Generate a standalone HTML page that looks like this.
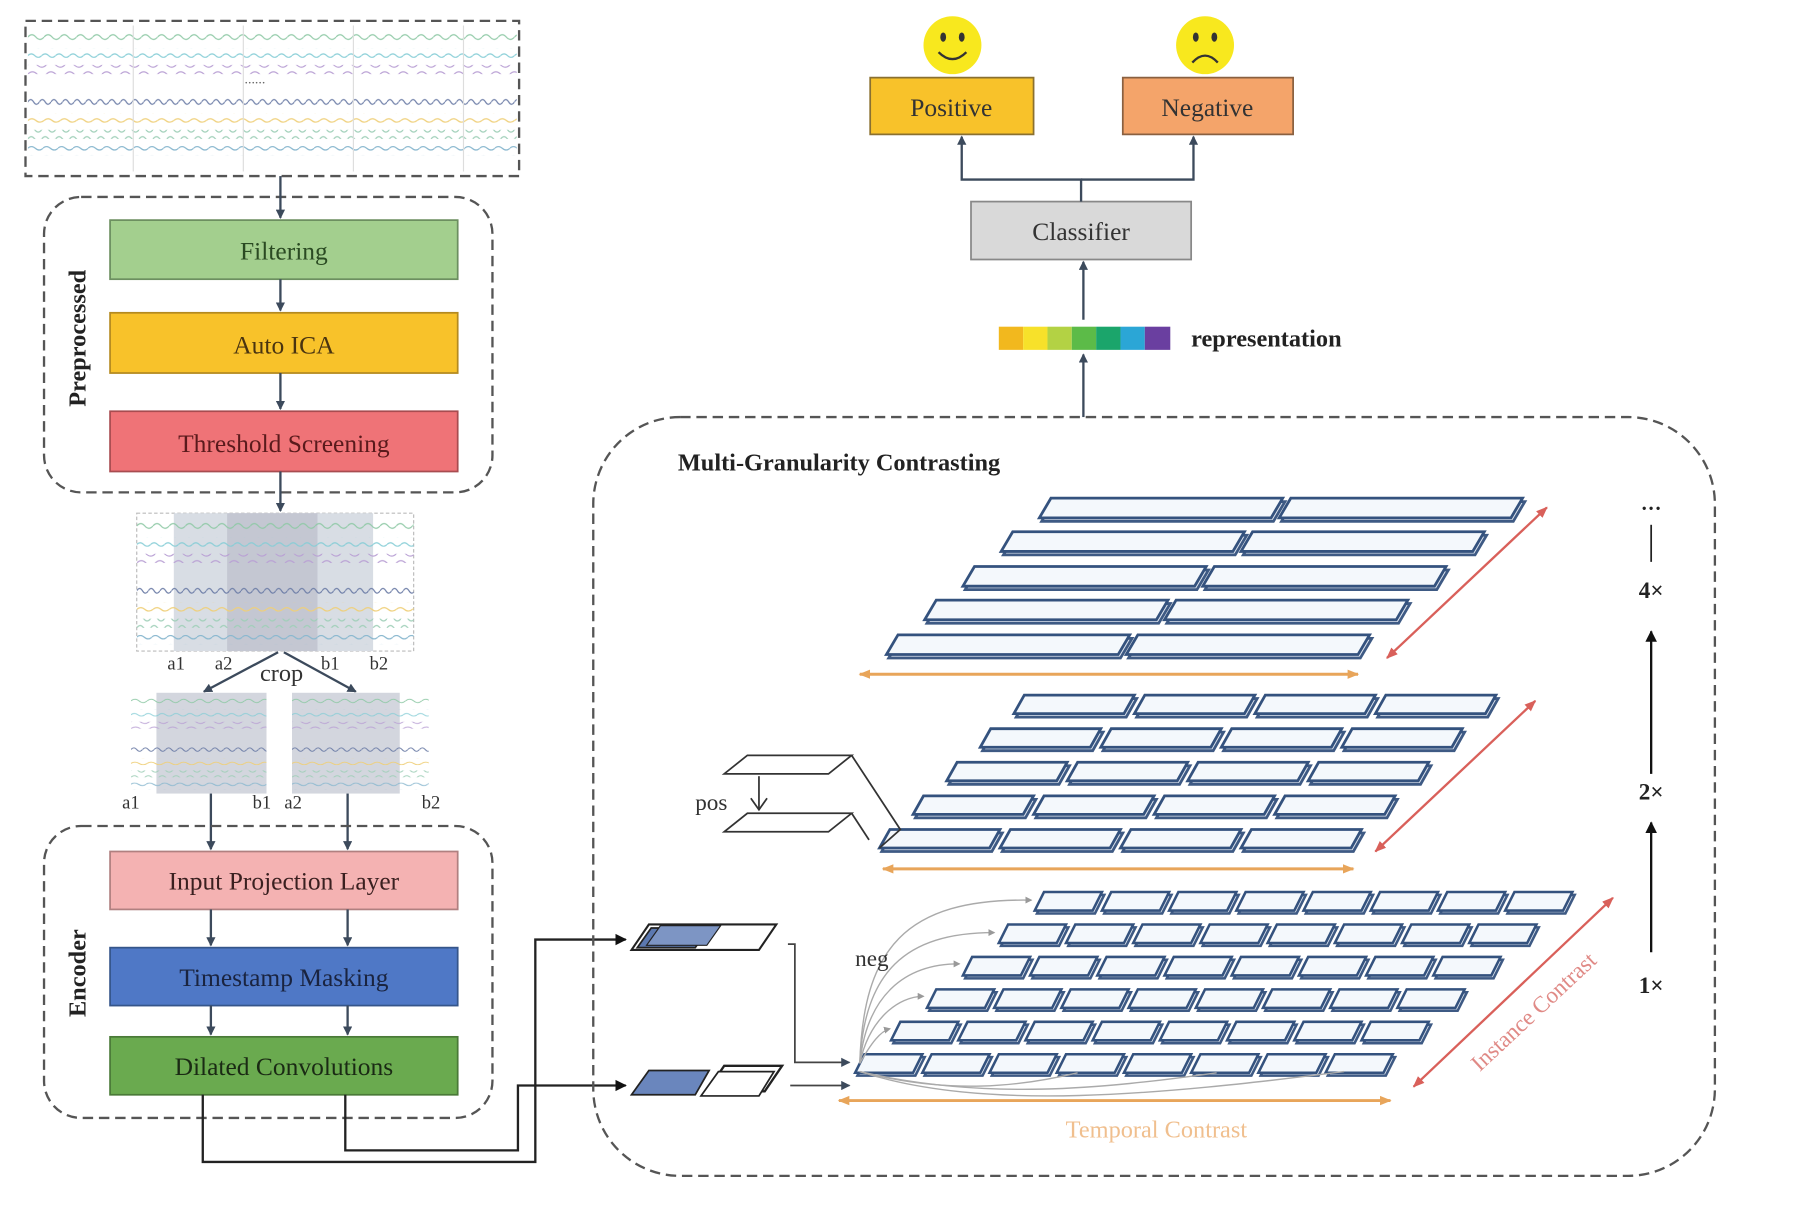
<!DOCTYPE html>
<html><head><meta charset="utf-8"><style>
html,body{margin:0;padding:0;background:#fff;}
svg{display:block;}
text{font-family:"Liberation Serif",serif;}
</style></head><body>
<svg width="1796" height="1228" viewBox="0 0 1550 1060" preserveAspectRatio="none" xmlns="http://www.w3.org/2000/svg">
<defs>
<marker id="ah" markerWidth="8" markerHeight="8" refX="7" refY="4" orient="auto" markerUnits="userSpaceOnUse"><path d="M0,0 L8,4 L0,8 z" fill="#3c4a5c"/></marker>
<marker id="ahb" markerWidth="10" markerHeight="10" refX="9" refY="5" orient="auto" markerUnits="userSpaceOnUse"><path d="M0,0 L10,5 L0,10 z" fill="#111"/></marker>
<marker id="ao" markerWidth="10" markerHeight="10" refX="9" refY="5" orient="auto-start-reverse" markerUnits="userSpaceOnUse"><path d="M0,1 L10,5 L0,9 z" fill="#e8a55a"/></marker>
<marker id="ar" markerWidth="10" markerHeight="10" refX="9" refY="5" orient="auto-start-reverse" markerUnits="userSpaceOnUse"><path d="M0,1 L10,5 L0,9 z" fill="#d9605a"/></marker>
<marker id="ag" markerWidth="6" markerHeight="6" refX="5" refY="3" orient="auto" markerUnits="userSpaceOnUse"><path d="M0,0 L6,3 L0,6 z" fill="#999"/></marker>
<pattern id="w1" width="14" height="8" patternUnits="userSpaceOnUse"><path d="M0 4 Q3.5 0 7 4 T14 4" fill="none" stroke="#8fc9a6" stroke-width="1"/></pattern>
<pattern id="w2" width="12" height="8" patternUnits="userSpaceOnUse"><path d="M0 4 Q3 1 6 4 T12 4" fill="none" stroke="#86cdd6" stroke-width="1"/></pattern>
<pattern id="w3" width="16" height="8" patternUnits="userSpaceOnUse"><path d="M0 4 Q4 0 8 4 T16 4" fill="none" stroke="#b9a0d4" stroke-width="1"/></pattern>
<pattern id="w4" width="10" height="8" patternUnits="userSpaceOnUse"><path d="M0 4 Q2.5 0 5 4 T10 4" fill="none" stroke="#6f7fa8" stroke-width="1"/></pattern>
<pattern id="w5" width="14" height="8" patternUnits="userSpaceOnUse"><path d="M0 4 Q3.5 1 7 4 T14 4" fill="none" stroke="#efcf78" stroke-width="1"/></pattern>
<pattern id="w6" width="12" height="8" patternUnits="userSpaceOnUse"><path d="M0 4 Q3 0 6 4 T12 4" fill="none" stroke="#9fcfb8" stroke-width="1"/></pattern>
<pattern id="w7" width="13" height="8" patternUnits="userSpaceOnUse"><path d="M0 4 Q3 1 6.5 4 T13 4" fill="none" stroke="#8ab8cf" stroke-width="1"/></pattern>
<g id="pT"><polygon points="12,3 212,3 202,20 2,20" fill="#dfe6f0" stroke="#3e5a84" stroke-width="2.4"/><polygon points="10,0 210,0 200,17 0,17" fill="#f4f8fc" stroke="#34527e" stroke-width="2.4"/></g>
<g id="pM"><polygon points="11,3 106,3 97,19 2,19" fill="#dfe6f0" stroke="#3e5a84" stroke-width="2.4"/><polygon points="9,0 104,0 95,16 0,16" fill="#f4f8fc" stroke="#34527e" stroke-width="2.4"/></g>
<g id="pB"><polygon points="10,2.5 60,2.5 52,18.5 2,18.5" fill="#dfe6f0" stroke="#3e5a84" stroke-width="2.2"/><polygon points="8,0 58,0 50,16 0,16" fill="#f4f8fc" stroke="#34527e" stroke-width="2.2"/></g>
<g id="eegLines">
<rect x="0" y="0" width="1000" height="8" fill="url(#w1)"/>
<rect x="0" y="14" width="1000" height="8" fill="url(#w2)"/>
<rect x="0" y="28" width="1000" height="8" fill="url(#w3)"/>
<rect x="0" y="56" width="1000" height="8" fill="url(#w4)"/>
<rect x="0" y="70" width="1000" height="8" fill="url(#w5)"/>
<rect x="0" y="84" width="1000" height="8" fill="url(#w6)"/>
<rect x="0" y="98" width="1000" height="8" fill="url(#w7)"/>
</g>
<clipPath id="c1"><rect x="24" y="20" width="422" height="130"/></clipPath>
<clipPath id="c2"><rect x="118" y="443" width="239" height="119"/></clipPath>
<clipPath id="c3"><rect x="113" y="598" width="117" height="87"/></clipPath>
<clipPath id="c4"><rect x="252" y="598" width="118" height="87"/></clipPath>
</defs>

<rect x="22" y="18" width="426" height="134" fill="#fff" stroke="#555" stroke-width="2" stroke-dasharray="9,5"/>
<g clip-path="url(#c1)"><use href="#eegLines" transform="translate(24,28)"/></g>
<line x1="115" y1="22" x2="115" y2="148" stroke="#ddd"/><line x1="210" y1="22" x2="210" y2="148" stroke="#ddd"/><line x1="305" y1="22" x2="305" y2="148" stroke="#ddd"/><line x1="400" y1="22" x2="400" y2="148" stroke="#ddd"/>
<text x="220" y="72" font-size="12" fill="#666" text-anchor="middle">......</text>

<rect x="38" y="170" width="387" height="255" rx="32" fill="none" stroke="#555" stroke-width="2" stroke-dasharray="9,5"/>
<text transform="translate(74,292) rotate(-90)" font-size="21" font-weight="bold" text-anchor="middle" fill="#222">Preprocessed</text>
<line x1="242" y1="152" x2="242" y2="188" stroke="#3c4a5c" stroke-width="2" marker-end="url(#ah)"/>
<rect x="95" y="190" width="300" height="51" fill="#a3cf8e" stroke="#6c8f60" stroke-width="1.5"/>
<text x="245" y="224" font-size="22" text-anchor="middle" fill="#2a4a22">Filtering</text>
<line x1="242" y1="241" x2="242" y2="268" stroke="#3c4a5c" stroke-width="2" marker-end="url(#ah)"/>
<rect x="95" y="270" width="300" height="52" fill="#f8c22a" stroke="#b48a20" stroke-width="1.5"/>
<text x="245" y="305" font-size="22" text-anchor="middle" fill="#4a3410">Auto ICA</text>
<line x1="242" y1="322" x2="242" y2="353" stroke="#3c4a5c" stroke-width="2" marker-end="url(#ah)"/>
<rect x="95" y="355" width="300" height="52" fill="#ef7377" stroke="#a84c50" stroke-width="1.5"/>
<text x="245" y="390" font-size="22" text-anchor="middle" fill="#5a1a1c">Threshold Screening</text>
<line x1="242" y1="407" x2="242" y2="441" stroke="#3c4a5c" stroke-width="2" marker-end="url(#ah)"/>

<rect x="118" y="443" width="239" height="119" fill="#fff" stroke="#bbb" stroke-dasharray="3,2"/>
<rect x="150" y="443" width="172" height="119" fill="#d8dde4"/>
<rect x="196" y="443" width="78" height="119" fill="#c4c7d2"/>
<g clip-path="url(#c2)"><use href="#eegLines" transform="translate(118,450)"/></g>
<text x="152" y="578" font-size="16" text-anchor="middle" fill="#333">a1</text>
<text x="193" y="578" font-size="16" text-anchor="middle" fill="#333">a2</text>
<text x="285" y="578" font-size="16" text-anchor="middle" fill="#333">b1</text>
<text x="327" y="578" font-size="16" text-anchor="middle" fill="#333">b2</text>
<text x="243" y="588" font-size="21" text-anchor="middle" fill="#333">crop</text>
<line x1="240" y1="563" x2="176" y2="597" stroke="#3c4a5c" stroke-width="2" marker-end="url(#ah)"/>
<line x1="245" y1="563" x2="307" y2="597" stroke="#3c4a5c" stroke-width="2" marker-end="url(#ah)"/>

<rect x="113" y="598" width="117" height="87" fill="#fff"/>
<rect x="135" y="598" width="95" height="87" fill="#d3d6de"/>
<g clip-path="url(#c3)"><use href="#eegLines" transform="translate(113,602) scale(1,0.75)"/></g>
<rect x="252" y="598" width="118" height="87" fill="#fff"/>
<rect x="252" y="598" width="93" height="87" fill="#d3d6de"/>
<g clip-path="url(#c4)"><use href="#eegLines" transform="translate(252,602) scale(1,0.75)"/></g>
<text x="113" y="698" font-size="16" text-anchor="middle" fill="#333">a1</text>
<text x="226" y="698" font-size="16" text-anchor="middle" fill="#333">b1</text>
<text x="253" y="698" font-size="16" text-anchor="middle" fill="#333">a2</text>
<text x="372" y="698" font-size="16" text-anchor="middle" fill="#333">b2</text>
<line x1="182" y1="685" x2="182" y2="733" stroke="#3c4a5c" stroke-width="2" marker-end="url(#ah)"/>
<line x1="300" y1="685" x2="300" y2="733" stroke="#3c4a5c" stroke-width="2" marker-end="url(#ah)"/>

<rect x="38" y="713" width="387" height="252" rx="32" fill="none" stroke="#555" stroke-width="2" stroke-dasharray="9,5"/>
<text transform="translate(74,840) rotate(-90)" font-size="21" font-weight="bold" text-anchor="middle" fill="#222">Encoder</text>
<rect x="95" y="735" width="300" height="50" fill="#f4b2b2" stroke="#b08080" stroke-width="1.5"/>
<text x="245" y="768" font-size="22" text-anchor="middle" fill="#3a2020">Input Projection Layer</text>
<line x1="182" y1="785" x2="182" y2="816" stroke="#3c4a5c" stroke-width="2" marker-end="url(#ah)"/>
<line x1="300" y1="785" x2="300" y2="816" stroke="#3c4a5c" stroke-width="2" marker-end="url(#ah)"/>
<rect x="95" y="818" width="300" height="50" fill="#4f78c6" stroke="#35558a" stroke-width="1.5"/>
<text x="245" y="851" font-size="22" text-anchor="middle" fill="#1a2440">Timestamp Masking</text>
<line x1="182" y1="868" x2="182" y2="893" stroke="#3c4a5c" stroke-width="2" marker-end="url(#ah)"/>
<line x1="300" y1="868" x2="300" y2="893" stroke="#3c4a5c" stroke-width="2" marker-end="url(#ah)"/>
<rect x="95" y="895" width="300" height="50" fill="#6aaa4f" stroke="#4a7a38" stroke-width="1.5"/>
<text x="245" y="928" font-size="22" text-anchor="middle" fill="#1a2a14">Dilated Convolutions</text>

<polyline points="175,945 175,1003 462,1003 462,811 540,811" fill="none" stroke="#222" stroke-width="2" marker-end="url(#ahb)"/>
<polyline points="298,945 298,993 447,993 447,937 540,937" fill="none" stroke="#222" stroke-width="2" marker-end="url(#ahb)"/>

<polygon points="560,798 670,798 655,820 545,820" fill="#fff" stroke="#222" stroke-width="1.8"/>
<polygon points="562,801 612,801 600,818 550,818" fill="#5b78b0" stroke="#222" stroke-width="1.5"/>
<polygon points="570,799 622,799 610,816 558,816" fill="#7d95c4" stroke="#222" stroke-width="1"/>
<polygon points="560,924 612,924 600,945 545,945" fill="#6a86bd" stroke="#222" stroke-width="1.5"/>
<polygon points="625,920 675,920 660,942 610,942" fill="#fff" stroke="#222" stroke-width="2"/>
<polygon points="620,925 668,925 655,946 605,946" fill="#fff" stroke="#222" stroke-width="1.5"/>
<polyline points="680,815 686,815 686,917 733,917" fill="none" stroke="#444" stroke-width="1.5" marker-end="url(#ah)"/>
<line x1="682" y1="937" x2="733" y2="937" stroke="#444" stroke-width="1.5" marker-end="url(#ah)"/>

<rect x="512" y="360" width="968" height="655" rx="75" fill="none" stroke="#555" stroke-width="2" stroke-dasharray="9,5"/>
<text x="585" y="406" font-size="21" font-weight="bold" fill="#222">Multi-Granularity Contrasting</text>

<g>
<use href="#pT" x="897" y="430"/><use href="#pT" x="1104" y="430"/>
<use href="#pT" x="864" y="459"/><use href="#pT" x="1071" y="459"/>
<use href="#pT" x="831" y="489"/><use href="#pT" x="1038" y="489"/>
<use href="#pT" x="798" y="518"/><use href="#pT" x="1005" y="518"/>
<use href="#pT" x="765" y="548"/><use href="#pT" x="972" y="548"/>
</g>
<line x1="742" y1="582" x2="1172" y2="582" stroke="#e8a55a" stroke-width="2.5" marker-start="url(#ao)" marker-end="url(#ao)"/>
<line x1="1335" y1="438" x2="1197" y2="568" stroke="#d9605a" stroke-width="2" marker-start="url(#ar)" marker-end="url(#ar)"/>

<g>
<use href="#pM" x="875" y="600"/><use href="#pM" x="979" y="600"/><use href="#pM" x="1083" y="600"/><use href="#pM" x="1187" y="600"/>
<use href="#pM" x="846" y="629"/><use href="#pM" x="950" y="629"/><use href="#pM" x="1054" y="629"/><use href="#pM" x="1158" y="629"/>
<use href="#pM" x="817" y="658"/><use href="#pM" x="921" y="658"/><use href="#pM" x="1025" y="658"/><use href="#pM" x="1129" y="658"/>
<use href="#pM" x="788" y="687"/><use href="#pM" x="892" y="687"/><use href="#pM" x="996" y="687"/><use href="#pM" x="1100" y="687"/>
<use href="#pM" x="759" y="716"/><use href="#pM" x="863" y="716"/><use href="#pM" x="967" y="716"/><use href="#pM" x="1071" y="716"/>
</g>
<line x1="762" y1="750" x2="1168" y2="750" stroke="#e8a55a" stroke-width="2.5" marker-start="url(#ao)" marker-end="url(#ao)"/>
<line x1="1325" y1="605" x2="1187" y2="735" stroke="#d9605a" stroke-width="2" marker-start="url(#ar)" marker-end="url(#ar)"/>

<polygon points="645,652 735,652 715,668 625,668" fill="#fff" stroke="#333" stroke-width="1.5"/>
<polygon points="645,702 735,702 715,718 625,718" fill="#fff" stroke="#333" stroke-width="1.5"/>
<line x1="655" y1="670" x2="655" y2="699" stroke="#333" stroke-width="1.5"/>
<polyline points="648,689 655,699 662,689" fill="none" stroke="#333" stroke-width="1.5"/>
<text x="600" y="699" font-size="20" fill="#333">pos</text>
<polyline points="735,652 777,716 759,732" fill="none" stroke="#333" stroke-width="1.5"/>
<polyline points="735,702 750,725" fill="none" stroke="#333" stroke-width="1.5"/>

<g>
<use href="#pB" x="893" y="770"/><use href="#pB" x="951" y="770"/><use href="#pB" x="1009" y="770"/><use href="#pB" x="1067" y="770"/><use href="#pB" x="1125" y="770"/><use href="#pB" x="1183" y="770"/><use href="#pB" x="1241" y="770"/><use href="#pB" x="1299" y="770"/>
<use href="#pB" x="862" y="798"/><use href="#pB" x="920" y="798"/><use href="#pB" x="978" y="798"/><use href="#pB" x="1036" y="798"/><use href="#pB" x="1094" y="798"/><use href="#pB" x="1152" y="798"/><use href="#pB" x="1210" y="798"/><use href="#pB" x="1268" y="798"/>
<use href="#pB" x="831" y="826"/><use href="#pB" x="889" y="826"/><use href="#pB" x="947" y="826"/><use href="#pB" x="1005" y="826"/><use href="#pB" x="1063" y="826"/><use href="#pB" x="1121" y="826"/><use href="#pB" x="1179" y="826"/><use href="#pB" x="1237" y="826"/>
<use href="#pB" x="800" y="854"/><use href="#pB" x="858" y="854"/><use href="#pB" x="916" y="854"/><use href="#pB" x="974" y="854"/><use href="#pB" x="1032" y="854"/><use href="#pB" x="1090" y="854"/><use href="#pB" x="1148" y="854"/><use href="#pB" x="1206" y="854"/>
<use href="#pB" x="769" y="882"/><use href="#pB" x="827" y="882"/><use href="#pB" x="885" y="882"/><use href="#pB" x="943" y="882"/><use href="#pB" x="1001" y="882"/><use href="#pB" x="1059" y="882"/><use href="#pB" x="1117" y="882"/><use href="#pB" x="1175" y="882"/>
<use href="#pB" x="738" y="910"/><use href="#pB" x="796" y="910"/><use href="#pB" x="854" y="910"/><use href="#pB" x="912" y="910"/><use href="#pB" x="970" y="910"/><use href="#pB" x="1028" y="910"/><use href="#pB" x="1086" y="910"/><use href="#pB" x="1144" y="910"/>
</g>
<g fill="none" stroke="#aaa" stroke-width="1.2">
<path d="M742,918 C745,820 780,775 890,777" marker-end="url(#ag)"/>
<path d="M742,918 C746,840 780,805 858,805" marker-end="url(#ag)"/>
<path d="M742,918 C748,860 780,832 828,832" marker-end="url(#ag)"/>
<path d="M742,918 C750,880 775,860 797,860" marker-end="url(#ag)"/>
<path d="M742,918 C752,900 760,890 768,888" marker-end="url(#ag)"/>
<path d="M742,925 C850,960 1000,945 1160,925"/>
<path d="M742,925 C850,950 950,940 1050,926"/>
<path d="M742,925 C820,945 880,938 930,926"/>
</g>
<text x="738" y="834" font-size="20" fill="#333">neg</text>
<line x1="724" y1="950" x2="1200" y2="950" stroke="#e8a55a" stroke-width="2.5" marker-start="url(#ao)" marker-end="url(#ao)"/>
<line x1="1392" y1="775" x2="1220" y2="938" stroke="#d9605a" stroke-width="2" marker-start="url(#ar)" marker-end="url(#ar)"/>
<text transform="translate(1328,878) rotate(-43)" font-size="20" text-anchor="middle" fill="#e08a86">Instance Contrast</text>
<text x="998" y="982" font-size="21" text-anchor="middle" fill="#f0bf8e">Temporal Contrast</text>

<text x="1425" y="445" font-size="18" font-weight="bold" text-anchor="middle" fill="#222">···</text>
<line x1="1425" y1="453" x2="1425" y2="485" stroke="#222" stroke-width="1.5"/>
<text x="1425" y="516" font-size="20" font-weight="bold" text-anchor="middle" fill="#222">4×</text>
<line x1="1425" y1="668" x2="1425" y2="545" stroke="#111" stroke-width="2" marker-end="url(#ahb)"/>
<text x="1425" y="690" font-size="20" font-weight="bold" text-anchor="middle" fill="#222">2×</text>
<line x1="1425" y1="822" x2="1425" y2="710" stroke="#111" stroke-width="2" marker-end="url(#ahb)"/>
<text x="1425" y="857" font-size="20" font-weight="bold" text-anchor="middle" fill="#222">1×</text>

<line x1="935" y1="360" x2="935" y2="306" stroke="#3c4a5c" stroke-width="2" marker-end="url(#ah)"/>
<rect x="862" y="282" width="21" height="20" fill="#f2b81e"/>
<rect x="883" y="282" width="21" height="20" fill="#f7e12a"/>
<rect x="904" y="282" width="21" height="20" fill="#b3d244"/>
<rect x="925" y="282" width="21" height="20" fill="#5cbb48"/>
<rect x="946" y="282" width="21" height="20" fill="#1ba56b"/>
<rect x="967" y="282" width="21" height="20" fill="#2ba6d6"/>
<rect x="988" y="282" width="22" height="20" fill="#6a3fa0"/>
<text x="1028" y="299" font-size="21" font-weight="bold" fill="#222">representation</text>
<line x1="935" y1="276" x2="935" y2="226" stroke="#3c4a5c" stroke-width="2" marker-end="url(#ah)"/>
<rect x="838" y="174" width="190" height="50" fill="#d9d9d9" stroke="#888" stroke-width="1.5"/>
<text x="933" y="207" font-size="22" text-anchor="middle" fill="#333">Classifier</text>
<polyline points="933,174 933,155 830,155 830,118" fill="none" stroke="#3c4a5c" stroke-width="2" marker-end="url(#ah)"/>
<polyline points="933,155 1030,155 1030,118" fill="none" stroke="#3c4a5c" stroke-width="2" marker-end="url(#ah)"/>
<rect x="751" y="67" width="141" height="49" fill="#f8c22a" stroke="#8a7030" stroke-width="1.5"/>
<text x="821" y="100" font-size="22" text-anchor="middle" fill="#333">Positive</text>
<rect x="969" y="67" width="147" height="49" fill="#f4a46a" stroke="#8a6040" stroke-width="1.5"/>
<text x="1042" y="100" font-size="22" text-anchor="middle" fill="#333">Negative</text>
<circle cx="822" cy="39" r="25" fill="#f8e81e"/>
<ellipse cx="814" cy="32" rx="2.5" ry="4" fill="#333"/><ellipse cx="830" cy="32" rx="2.5" ry="4" fill="#333"/>
<path d="M810,45 Q822,57 834,45" fill="none" stroke="#333" stroke-width="2"/>
<circle cx="1040" cy="39" r="25" fill="#f8e81e"/>
<ellipse cx="1032" cy="32" rx="2.5" ry="4" fill="#333"/><ellipse cx="1048" cy="32" rx="2.5" ry="4" fill="#333"/>
<path d="M1029,54 Q1040,42 1051,54" fill="none" stroke="#333" stroke-width="2"/>
</svg>
</body></html>
